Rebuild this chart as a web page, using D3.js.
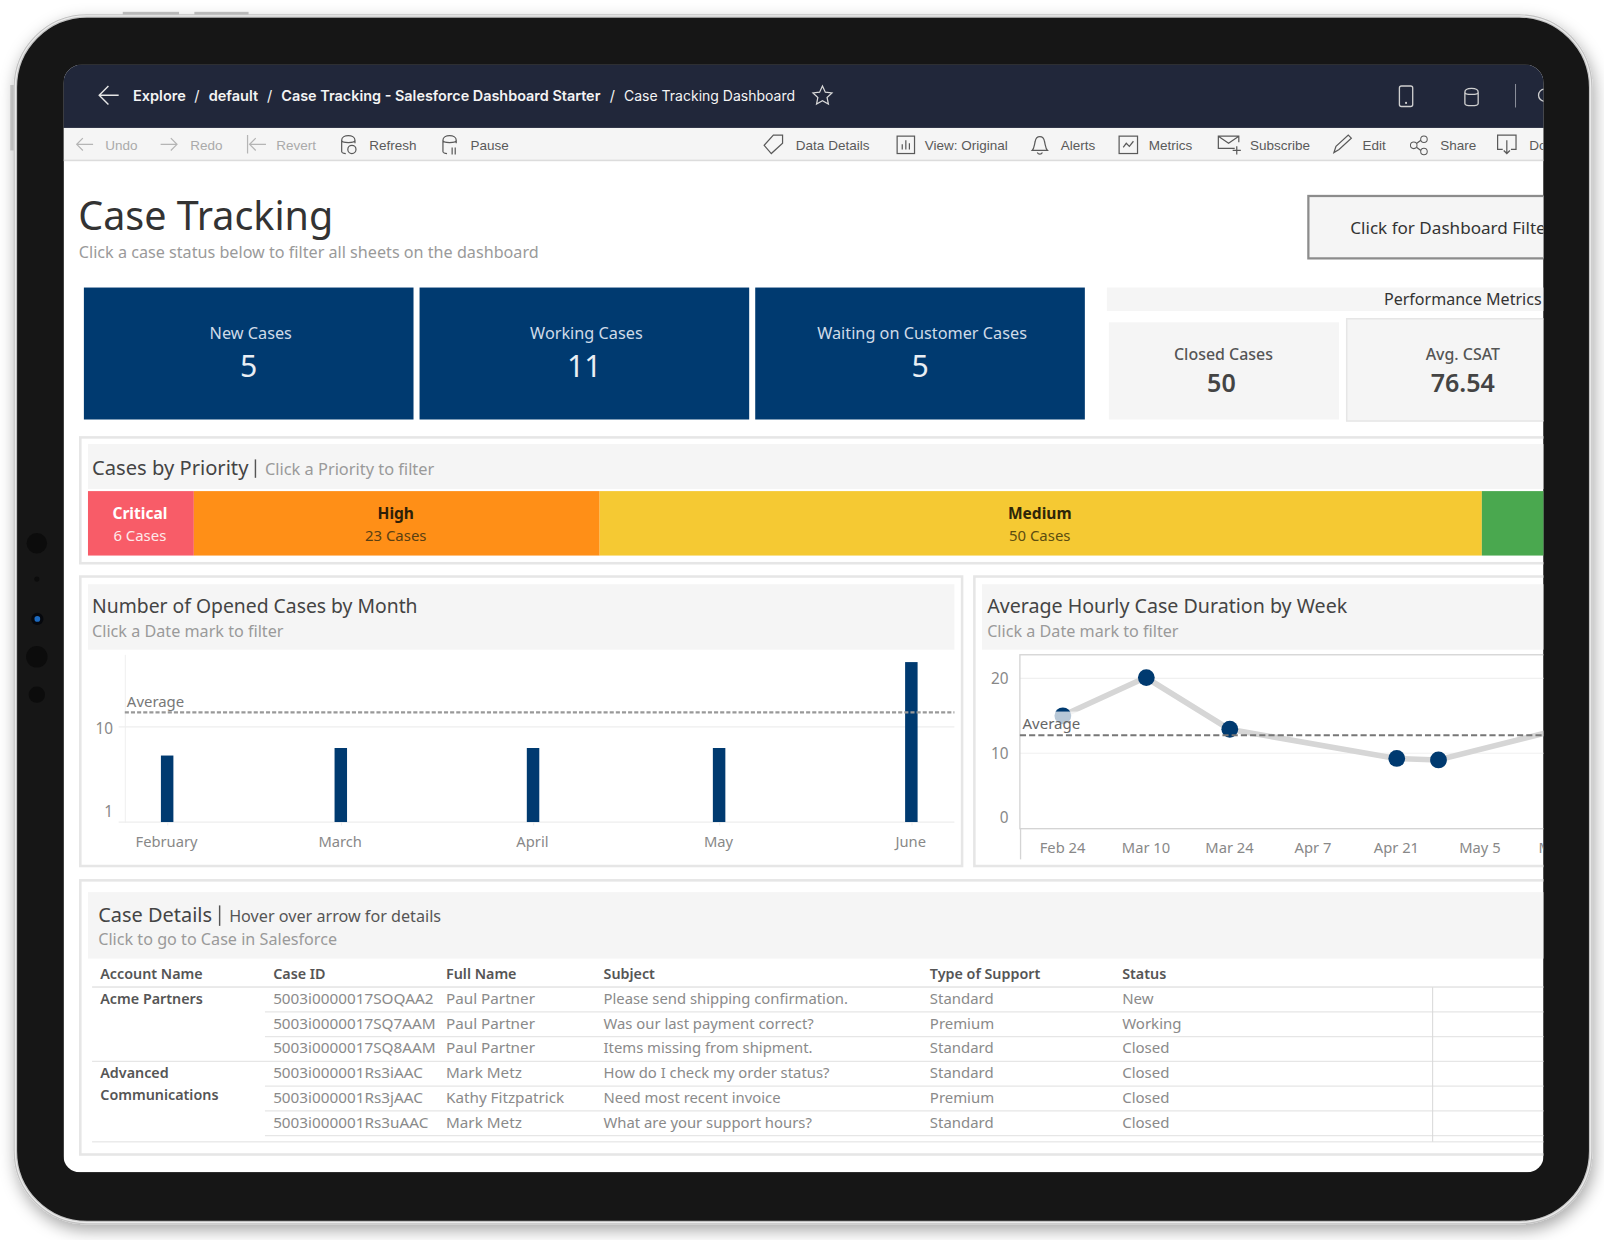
<!DOCTYPE html>
<html>
<head>
<meta charset="utf-8">
<title>Case Tracking</title>
<script src="https://cdn.jsdelivr.net/npm/d3@7"></script>
<style>
html, body { margin: 0; padding: 0; background: #fff; }
svg { display: block; }
</style>
</head>
<body>
<svg id="page" width="1604" height="1240" viewBox="0 0 1568 1212"></svg>
<script>
// ---- data ----
var statusNames = ["New Cases", "Working Cases", "Waiting on Customer Cases"];
var statusCounts = [5, 11, 5];

var priorityNames = ["Critical", "High", "Medium", "Low"];
var priorityCounts = [6, 23, 50, 12];
var priorityColors = ["#f85c68", "#ff8f17", "#f5c933", "#4aa84f"];

var openedMonths = ["2019-02-01", "2019-03-01", "2019-04-01", "2019-05-01", "2019-06-01"];
var openedCounts = [5, 6, 6, 6, 48];

var durationWeeks = ["2019-02-24", "2019-03-10", "2019-03-24", "2019-04-21", "2019-04-28", "2019-05-19"];
var durationHours = [15, 20.1, 13.2, 9.3, 9.1, 13.3];
var durationAverage = 12.4;
var durationTicks = ["2019-02-24", "2019-03-10", "2019-03-24", "2019-04-07", "2019-04-21", "2019-05-05", "2019-05-19"];

var tableHeaders = ["Account Name", "Case ID", "Full Name", "Subject", "Type of Support", "Status"];
var tableAccounts = [["Acme Partners"], ["Advanced", "Communications"]];
var tableCaseIds = ["5003i0000017SOQAA2", "5003i0000017SQ7AAM", "5003i0000017SQ8AAM", "5003i000001Rs3iAAC", "5003i000001Rs3jAAC", "5003i000001Rs3uAAC"];
var tableNames = ["Paul Partner", "Paul Partner", "Paul Partner", "Mark Metz", "Kathy Fitzpatrick", "Mark Metz"];
var tableSubjects = ["Please send shipping confirmation.", "Was our last payment correct?", "Items missing from shipment.", "How do I check my order status?", "Need most recent invoice", "What are your support hours?"];
var tableSupport = ["Standard", "Premium", "Standard", "Standard", "Premium", "Standard"];
var tableStatus = ["New", "Working", "Closed", "Closed", "Closed", "Closed"];

const NAVY = "#003a70", PANEL = "#f5f5f5", EDGE = "#e6e6e6";
const BOOK = "'Noto Sans', sans-serif", UI = "'Liberation Sans', Arial, sans-serif", NAV = "Inter, Roboto, sans-serif";

var svg = d3.select("#page");
var parseDay = d3.utcParse("%Y-%m-%d");

function box(g, x, y, w, h, fill, stroke, sw) {
    return g.append("rect").attr("x", x).attr("y", y).attr("width", w).attr("height", h)
        .attr("fill", fill || "none").attr("stroke", stroke || "none").attr("stroke-width", sw || 0);
}

function label(g, x, y, str, size, fill, opts) {
    opts = opts || {};
    return g.append("text").attr("x", x).attr("y", y).text(str)
        .attr("font-family", opts.family || BOOK).attr("font-size", size).attr("fill", fill)
        .attr("font-weight", opts.weight || 400).attr("text-anchor", opts.anchor || "start");
}

function icon(g, d, stroke, sw) {
    return g.append("path").attr("d", d).attr("fill", "none").attr("stroke", stroke).attr("stroke-width", sw || 1.2);
}

//-------------- device frame -----------------
var defs = svg.append("defs");
var shadow = defs.append("filter").attr("id", "shadow").attr("x", "-5%").attr("y", "-5%").attr("width", "110%").attr("height", "110%");
shadow.append("feDropShadow").attr("dx", 2).attr("dy", 6).attr("stdDeviation", 8).attr("flood-color", "#000").attr("flood-opacity", 0.34);
defs.append("clipPath").attr("id", "screen").append("path")
    .attr("d", "M80 63H1491a18 18 0 0 1 18 18V1130a16 16 0 0 1-16 16H78a16 16 0 0 1-16-16V81a18 18 0 0 1 18-18Z");

box(svg, 120, 11.5, 55, 3, "#c4c4c4");
box(svg, 190, 11.5, 53, 3, "#c4c4c4");
box(svg, 10, 83, 4, 64, "#d6d6d6");
box(svg, 15, 15.5, 1540, 1179.5, "#121212", "#c2c2c2", 3.5).attr("rx", 70).attr("filter", "url(#shadow)");
box(svg, 15, 15.5, 1540, 1179.5, "none", "#ececec", 1.2).attr("rx", 70);

var cameraY = [531, 566, 642, 679];
var cameraR = [10, 2.5, 10.5, 8];
svg.selectAll(".cam").data(cameraY).join("circle").attr("class", "cam")
    .attr("cx", 36).attr("cy", function (d) { return d; })
    .attr("r", function (d, i) { return cameraR[i]; }).attr("fill", "#0c0c0c");
svg.append("circle").attr("cx", 36.5).attr("cy", 605).attr("r", 6).attr("fill", "#06080d");
svg.append("circle").attr("cx", 36.5).attr("cy", 605).attr("r", 2.8).attr("fill", "#1c6ac0");

var screen = svg.append("g").attr("clip-path", "url(#screen)");
box(screen, 62, 63, 1447, 1083, "#fff");

//-------------- header and toolbar -----------------
box(screen, 62, 63, 1447, 62, "#21273a");
box(screen, 62, 125, 1447, 32, PANEL);
box(screen, 62, 156, 1447, 1.5, "#dcdcdc");

icon(screen, "M116 93H97M106 84l-9 9 9 9", "#e6e6e6", 1.4);
var crumbs = [[130, "Explore", 600, 14.2], [190, "/", 400, 14.2], [204, "default", 600, 14.2], [261, "/", 400, 14.2],
    [275, "Case Tracking - Salesforce Dashboard Starter", 600, 14.1], [596, "/", 400, 14.2], [610, "Case Tracking Dashboard", 400, 13.7]];
crumbs.forEach(function (c) { label(screen, c[0], 98.5, c[1], c[3], "#f4f4f4", { family: NAV, weight: c[2] }); });
icon(screen, "M804 84l2.8 6 6.5.8-4.8 4.4 1.3 6.4-5.8-3.2-5.8 3.2 1.3-6.4-4.8-4.4 6.5-.8Z", "#d8d8d8", 1.2);
box(screen, 1368, 84, 13, 20, "none", "#cfcfcf", 1.3).attr("rx", 2);
screen.append("circle").attr("cx", 1374.5).attr("cy", 100.5).attr("r", 1).attr("fill", "#d8d8d8");
icon(screen, "M1432 90c0-5 13-5 13 0v11c0 3-13 3-13 0ZM1432 90c0 3 13 3 13 0", "#cfcfcf", 1.3);
box(screen, 1481, 82, 1, 23, "#8a8e99");
icon(screen, "M1510 87a6 6 0 0 0 0 12", "#cfcfcf", 1.3);

var toolsOff = [[103, "Undo"], [186, "Redo"], [270, "Revert"]];
var toolsOn = [[361, "Refresh"], [460, "Pause"], [778, "Data Details"], [904, "View: Original"], [1037, "Alerts"],
    [1123, "Metrics"], [1222, "Subscribe"], [1332, "Edit"], [1408, "Share"], [1495, "Download"]];
toolsOff.forEach(function (t) { label(screen, t[0], 147, t[1], 13.2, "#aaaaaa", { family: UI }); });
toolsOn.forEach(function (t) { label(screen, t[0], 147, t[1], 13.2, "#5a5a5a", { family: UI }); });

icon(screen, "M91 141H75M81 135l-6 6 6 6", "#b5b5b5");
icon(screen, "M157 141h16M167 135l6 6-6 6", "#b5b5b5");
icon(screen, "M242 132v18M260 141h-16M250 135l-6 6 6 6", "#b5b5b5");
icon(screen, "M334 137c0-6 13-6 13 0v3M334 137v11c0 1 2 2 4 2M334 137c0 3 13 3 13 0", "#5a5a5a");
screen.append("circle").attr("cx", 344).attr("cy", 146).attr("r", 4).attr("fill", "none").attr("stroke", "#5a5a5a").attr("stroke-width", 1.2);
icon(screen, "M433 137c0-6 13-6 13 0v3M433 137v11c0 1 2 2 4 2M433 137c0 3 13 3 13 0M442 144v7M445 144v7", "#5a5a5a");
icon(screen, "M756 132h9v8l-11 10-7-8Z", "#5a5a5a");
box(screen, 877, 133, 17, 17, "none", "#5a5a5a", 1.2);
icon(screen, "M882 146v-5M885.500 146v-9M889 146v-6", "#5a5a5a");
icon(screen, "M1009 147c2-2 2-5 3-9 1-6 8-6 9 0 1 4 1 7 3 9ZM1014 149c1 2 4 2 5 0", "#5a5a5a");
box(screen, 1094, 133, 18, 17, "none", "#5a5a5a", 1.2);
icon(screen, "M1098 144l3-4 3 3 4-5", "#5a5a5a");
icon(screen, "M1207 145h-16v-12h20v6M1191 133l10 7 10-7M1209 143v8M1205 147h8", "#5a5a5a");
icon(screen, "M1304 149l2-6 12-11 3 3-12 11Z", "#5a5a5a");
screen.append("circle").attr("cx", 1382).attr("cy", 142).attr("r", 3.2).attr("fill", "none").attr("stroke", "#5a5a5a");
screen.append("circle").attr("cx", 1392).attr("cy", 136).attr("r", 3.2).attr("fill", "none").attr("stroke", "#5a5a5a");
screen.append("circle").attr("cx", 1392).attr("cy", 148).attr("r", 3.2).attr("fill", "none").attr("stroke", "#5a5a5a");
icon(screen, "M1385 140l4-3M1385 144l4 3", "#5a5a5a");
icon(screen, "M1469 146h-5v-14h18v14h-5M1473 137v13M1470 147l3 3 3-3", "#5a5a5a");

//-------------- title -----------------
label(screen, 76.5, 224.5, "Case Tracking", 38.6, "#333");
label(screen, 77, 252, "Click a case status below to filter all sheets on the dashboard", 15.8, "#9a9a9a");
box(screen, 1279, 191.500, 260, 61, PANEL, "#8c8c8c", 2.2);
label(screen, 1320, 229, "Click for Dashboard Filters", 16.7, "#333");

//-------------- status tiles -----------------
var tileX = d3.scaleBand().domain(statusNames).range([82, 1060.5]).paddingInner(0.018);
var tiles = screen.selectAll(".tile").data(statusNames).join("g").attr("class", "tile")
    .attr("transform", function (d) { return "translate(" + tileX(d) + ",281)"; });
tiles.append("rect").attr("width", tileX.bandwidth()).attr("height", 129).attr("fill", NAVY);
tiles.append("text").attr("x", tileX.bandwidth() / 2 + 2).attr("y", 50).text(function (d) { return d; })
    .attr("text-anchor", "middle").attr("font-family", BOOK).attr("font-size", 15.9).attr("fill", "#cfdbe8");
tiles.append("text").attr("x", tileX.bandwidth() / 2).attr("y", 87.5).text(function (d, i) { return statusCounts[i]; })
    .attr("text-anchor", "middle").attr("font-family", BOOK).attr("font-size", 29.5).attr("fill", "#e9eef4");

box(screen, 1082, 281, 430, 23, PANEL);
label(screen, 1507, 298.5, "Performance Metrics", 15.7, "#333", { anchor: "end" });
box(screen, 1084, 315, 225, 95, PANEL);
box(screen, 1316.500, 311.500, 200, 100, PANEL, EDGE, 1.5);
label(screen, 1196, 352, "Closed Cases", 15.6, "#555", { anchor: "middle", weight: 500 });
label(screen, 1194, 383, "50", 24.5, "#444", { anchor: "middle", weight: 600 });
label(screen, 1430, 352, "Avg. CSAT", 15.6, "#555", { anchor: "middle", weight: 500 });
label(screen, 1430, 383, "76.54", 24.5, "#444", { anchor: "middle", weight: 600 });

//-------------- cases by priority -----------------
box(screen, 78.500, 427.500, 1500, 123, "none", EDGE, 2.5);
box(screen, 86, 434, 1430, 44, PANEL);
label(screen, 90, 464, "Cases by Priority", 19.7, "#444");
box(screen, 249, 449, 1.4, 18, "#555");
label(screen, 259, 464, "Click a Priority to filter", 16, "#9a9a9a");

var priorityStart = [0].concat(Array.from(d3.cumsum(priorityCounts)));
var priorityX = d3.scaleLinear().domain([0, 50]).range([86, 948.4]);
var bands = screen.selectAll(".band").data(priorityNames).join("g").attr("class", "band");
bands.append("rect")
    .attr("x", function (d, i) { return priorityX(priorityStart[i]); })
    .attr("width", function (d, i) { return priorityX(priorityCounts[i]) - priorityX(0); })
    .attr("y", 480).attr("height", 63)
    .attr("fill", function (d, i) { return priorityColors[i]; });
var shown = bands.filter(function (d) { return d !== "Low"; });
var inkColor = { Critical: ["#fff", "#fdeaea"], High: ["#2e2008", "#5a3f12"], Medium: ["#2e2608", "#5c4d10"] };
function bandMid(d) {
    var i = priorityNames.indexOf(d);
    return priorityX(priorityStart[i] + priorityCounts[i] / 2) - 1;
}
shown.append("text").attr("x", bandMid).attr("y", 507).text(function (d) { return d; })
    .attr("text-anchor", "middle").attr("font-family", BOOK).attr("font-size", 15.2).attr("font-weight", 700)
    .attr("fill", function (d) { return inkColor[d][0]; });
shown.append("text").attr("x", bandMid).attr("y", 529)
    .text(function (d) { return priorityCounts[priorityNames.indexOf(d)] + " Cases"; })
    .attr("text-anchor", "middle").attr("font-family", BOOK).attr("font-size", 14.6)
    .attr("fill", function (d) { return inkColor[d][1]; });

//-------------- opened cases by month -----------------
box(screen, 78.500, 563.500, 862, 283, "none", EDGE, 2.5);
box(screen, 86, 571, 847, 64, PANEL);
label(screen, 90, 599, "Number of Opened Cases by Month", 18.9, "#444");
label(screen, 90, 622.5, "Click a Date mark to filter", 15.8, "#9a9a9a");

var monthDates = openedMonths.map(parseDay);
var monthX = d3.scaleUtc().domain([monthDates[0], monthDates[4]]).range([163.5, 891]);
var countY = d3.scaleLog().domain([1, 10]).range([803.5, 710.5]);

var chartA = screen.append("g");
box(chartA, 122, 640, 1, 164, "#f0f0f0");
chartA.append("g").selectAll("line").data([1, 10]).join("line")
    .attr("x1", 116).attr("x2", 933)
    .attr("y1", function (d) { return countY(d); }).attr("y2", function (d) { return countY(d); })
    .attr("stroke", "#eeeeee").attr("stroke-width", 1.2);

var countAxis = chartA.append("g").attr("transform", "translate(113.5,0)")
    .call(d3.axisLeft(countY).tickValues([1, 10]).tickFormat(d3.format("d")).tickSize(0));
countAxis.select(".domain").remove();
countAxis.selectAll("text").attr("font-family", BOOK).attr("font-size", 15).attr("fill", "#888")
    .attr("dy", function (d) { return d === 1 ? -5 : 6; });

var monthAxis = chartA.append("g").attr("transform", "translate(0,804)")
    .call(d3.axisBottom(monthX).tickValues(monthDates).tickFormat(d3.utcFormat("%B")).tickSize(3).tickPadding(11));
monthAxis.select(".domain").remove();
monthAxis.selectAll("line").attr("stroke", "#eeeeee");
monthAxis.selectAll("text").attr("font-family", BOOK).attr("font-size", 14.4).attr("fill", "#888").attr("dx", -1.2);

chartA.selectAll(".bar").data(openedCounts).join("rect").attr("class", "bar")
    .attr("x", function (d, i) { return monthX(monthDates[i]) - 6.2; })
    .attr("width", 12.2)
    .attr("y", function (d) { return countY(d); })
    .attr("height", function (d) { return countY(1) - countY(d); })
    .attr("fill", NAVY);

var openedMean = d3.mean(openedCounts);
chartA.append("line").attr("x1", 122).attr("x2", 933)
    .attr("y1", countY(openedMean)).attr("y2", countY(openedMean))
    .attr("stroke", "#999").attr("stroke-width", 2.2).attr("stroke-dasharray", "4 2");
label(chartA, 124, 691, "Average", 14.6, "#777");

//-------------- average duration by week -----------------
box(screen, 952.500, 563.500, 700, 283, "none", EDGE, 2.5);
box(screen, 960, 571, 560, 64, PANEL);
label(screen, 965, 599, "Average Hourly Case Duration by Week", 19.2, "#444");
label(screen, 965, 622.5, "Click a Date mark to filter", 15.8, "#9a9a9a");

var weekDates = durationWeeks.map(parseDay);
var tickDates = durationTicks.map(parseDay);
var weekX = d3.scaleUtc().domain([tickDates[0], tickDates[5]]).range([1038.5, 1446.5]);
var hourY = d3.scaleLinear().domain([0, 20]).range([809.5, 663]);

var chartB = screen.append("g");
chartB.append("g").selectAll("line").data([10, 20]).join("line")
    .attr("x1", 997).attr("x2", 1510)
    .attr("y1", function (d) { return hourY(d); }).attr("y2", function (d) { return hourY(d); })
    .attr("stroke", "#f0f0f0").attr("stroke-width", 1.2);
box(chartB, 997, 640, 560, 170, "none", "#d4d4d4", 1.3);
box(chartB, 997, 810, 1.3, 30, "#d4d4d4");

var hourAxis = chartB.append("g").attr("transform", "translate(989,0)")
    .call(d3.axisLeft(hourY).tickValues([0, 10, 20]).tickSize(0));
hourAxis.select(".domain").remove();
hourAxis.selectAll("text").attr("font-family", BOOK).attr("font-size", 15).attr("fill", "#888")
    .attr("dy", function (d) { return d === 0 ? -5.5 : 5.5; });

var weekAxis = chartB.append("g").attr("transform", "translate(0,810)")
    .call(d3.axisBottom(weekX).tickValues(tickDates).tickFormat(d3.utcFormat("%b %-d")).tickSize(0).tickPadding(14));
weekAxis.select(".domain").remove();
weekAxis.selectAll("text").attr("font-family", BOOK).attr("font-size", 14.4).attr("fill", "#888").attr("dx", -0.3);

var durationLine = d3.line()
    .x(function (d, i) { return weekX(weekDates[i]); })
    .y(function (d) { return hourY(d); });
chartB.append("path").attr("d", durationLine(durationHours))
    .attr("fill", "none").attr("stroke", "#d6d6d6").attr("stroke-width", 5.5);
chartB.selectAll(".dot").data(durationHours).join("circle").attr("class", "dot")
    .attr("cx", function (d, i) { return weekX(weekDates[i]) + 0.5; })
    .attr("cy", function (d) { return hourY(d); })
    .attr("r", 8.2).attr("fill", NAVY);

chartB.append("line").attr("x1", 997).attr("x2", 1510)
    .attr("y1", hourY(durationAverage)).attr("y2", hourY(durationAverage))
    .attr("stroke", "#777").attr("stroke-width", 2).attr("stroke-dasharray", "6 3");
box(chartB, 999, 695.5, 57, 20.5, "#fff").attr("opacity", 0.72);
label(chartB, 999.5, 713, "Average", 14.7, "#666");

//-------------- case details -----------------
box(screen, 78.500, 860.500, 1500, 268, "none", EDGE, 2.5);
box(screen, 86, 872, 1430, 65, PANEL);
label(screen, 96, 901, "Case Details", 19.5, "#444");
box(screen, 214, 885, 1.4, 20, "#555");
label(screen, 224, 901, "Hover over arrow for details", 15.8, "#555");
label(screen, 96, 924, "Click to go to Case in Salesforce", 15.8, "#9a9a9a");

var columnX = [98, 267, 436, 590, 909, 1097];
var columnSize = [14.95, 14.9, 14.5, 14.6, 14.7];
var rowIndex = d3.range(tableCaseIds.length);
var rowY = d3.scaleLinear().domain([0, 1]).range([976, 1000.2]);

var table = screen.append("g");
tableHeaders.forEach(function (h, i) {
    label(table, columnX[i], 957, h, 14, "#555", { weight: 600 });
});
[tableCaseIds, tableNames, tableSubjects, tableSupport, tableStatus].forEach(function (col, c) {
    table.append("g").selectAll("text").data(col).join("text")
        .attr("x", columnX[c + 1])
        .attr("y", function (d, i) { return rowY(i) + 5.2; })
        .text(function (d) { return d; })
        .attr("font-family", BOOK).attr("font-size", columnSize[c]).attr("fill", "#8a8a8a");
});
table.append("g").selectAll("line").data(rowIndex).join("line")
    .attr("x1", function (d) { return d === 2 ? 90 : 259; }).attr("x2", 1510)
    .attr("y1", function (d) { return rowY(d) + 13; }).attr("y2", function (d) { return rowY(d) + 13; })
    .attr("stroke", EDGE).attr("stroke-width", 1.2);
box(table, 90, 964, 1420, 1.6, EDGE);
box(table, 90, 1115.500, 1420, 1.2, EDGE);
box(table, 1400, 965, 1, 151, "#d8d8d8");

label(table, 98, 981.5, tableAccounts[0][0], 14, "#555", { weight: 600 });
label(table, 98, 1053.5, tableAccounts[1][0], 14, "#555", { weight: 600 });
label(table, 98, 1075.5, tableAccounts[1][1], 14, "#555", { weight: 600 });
</script>
</body>
</html>
